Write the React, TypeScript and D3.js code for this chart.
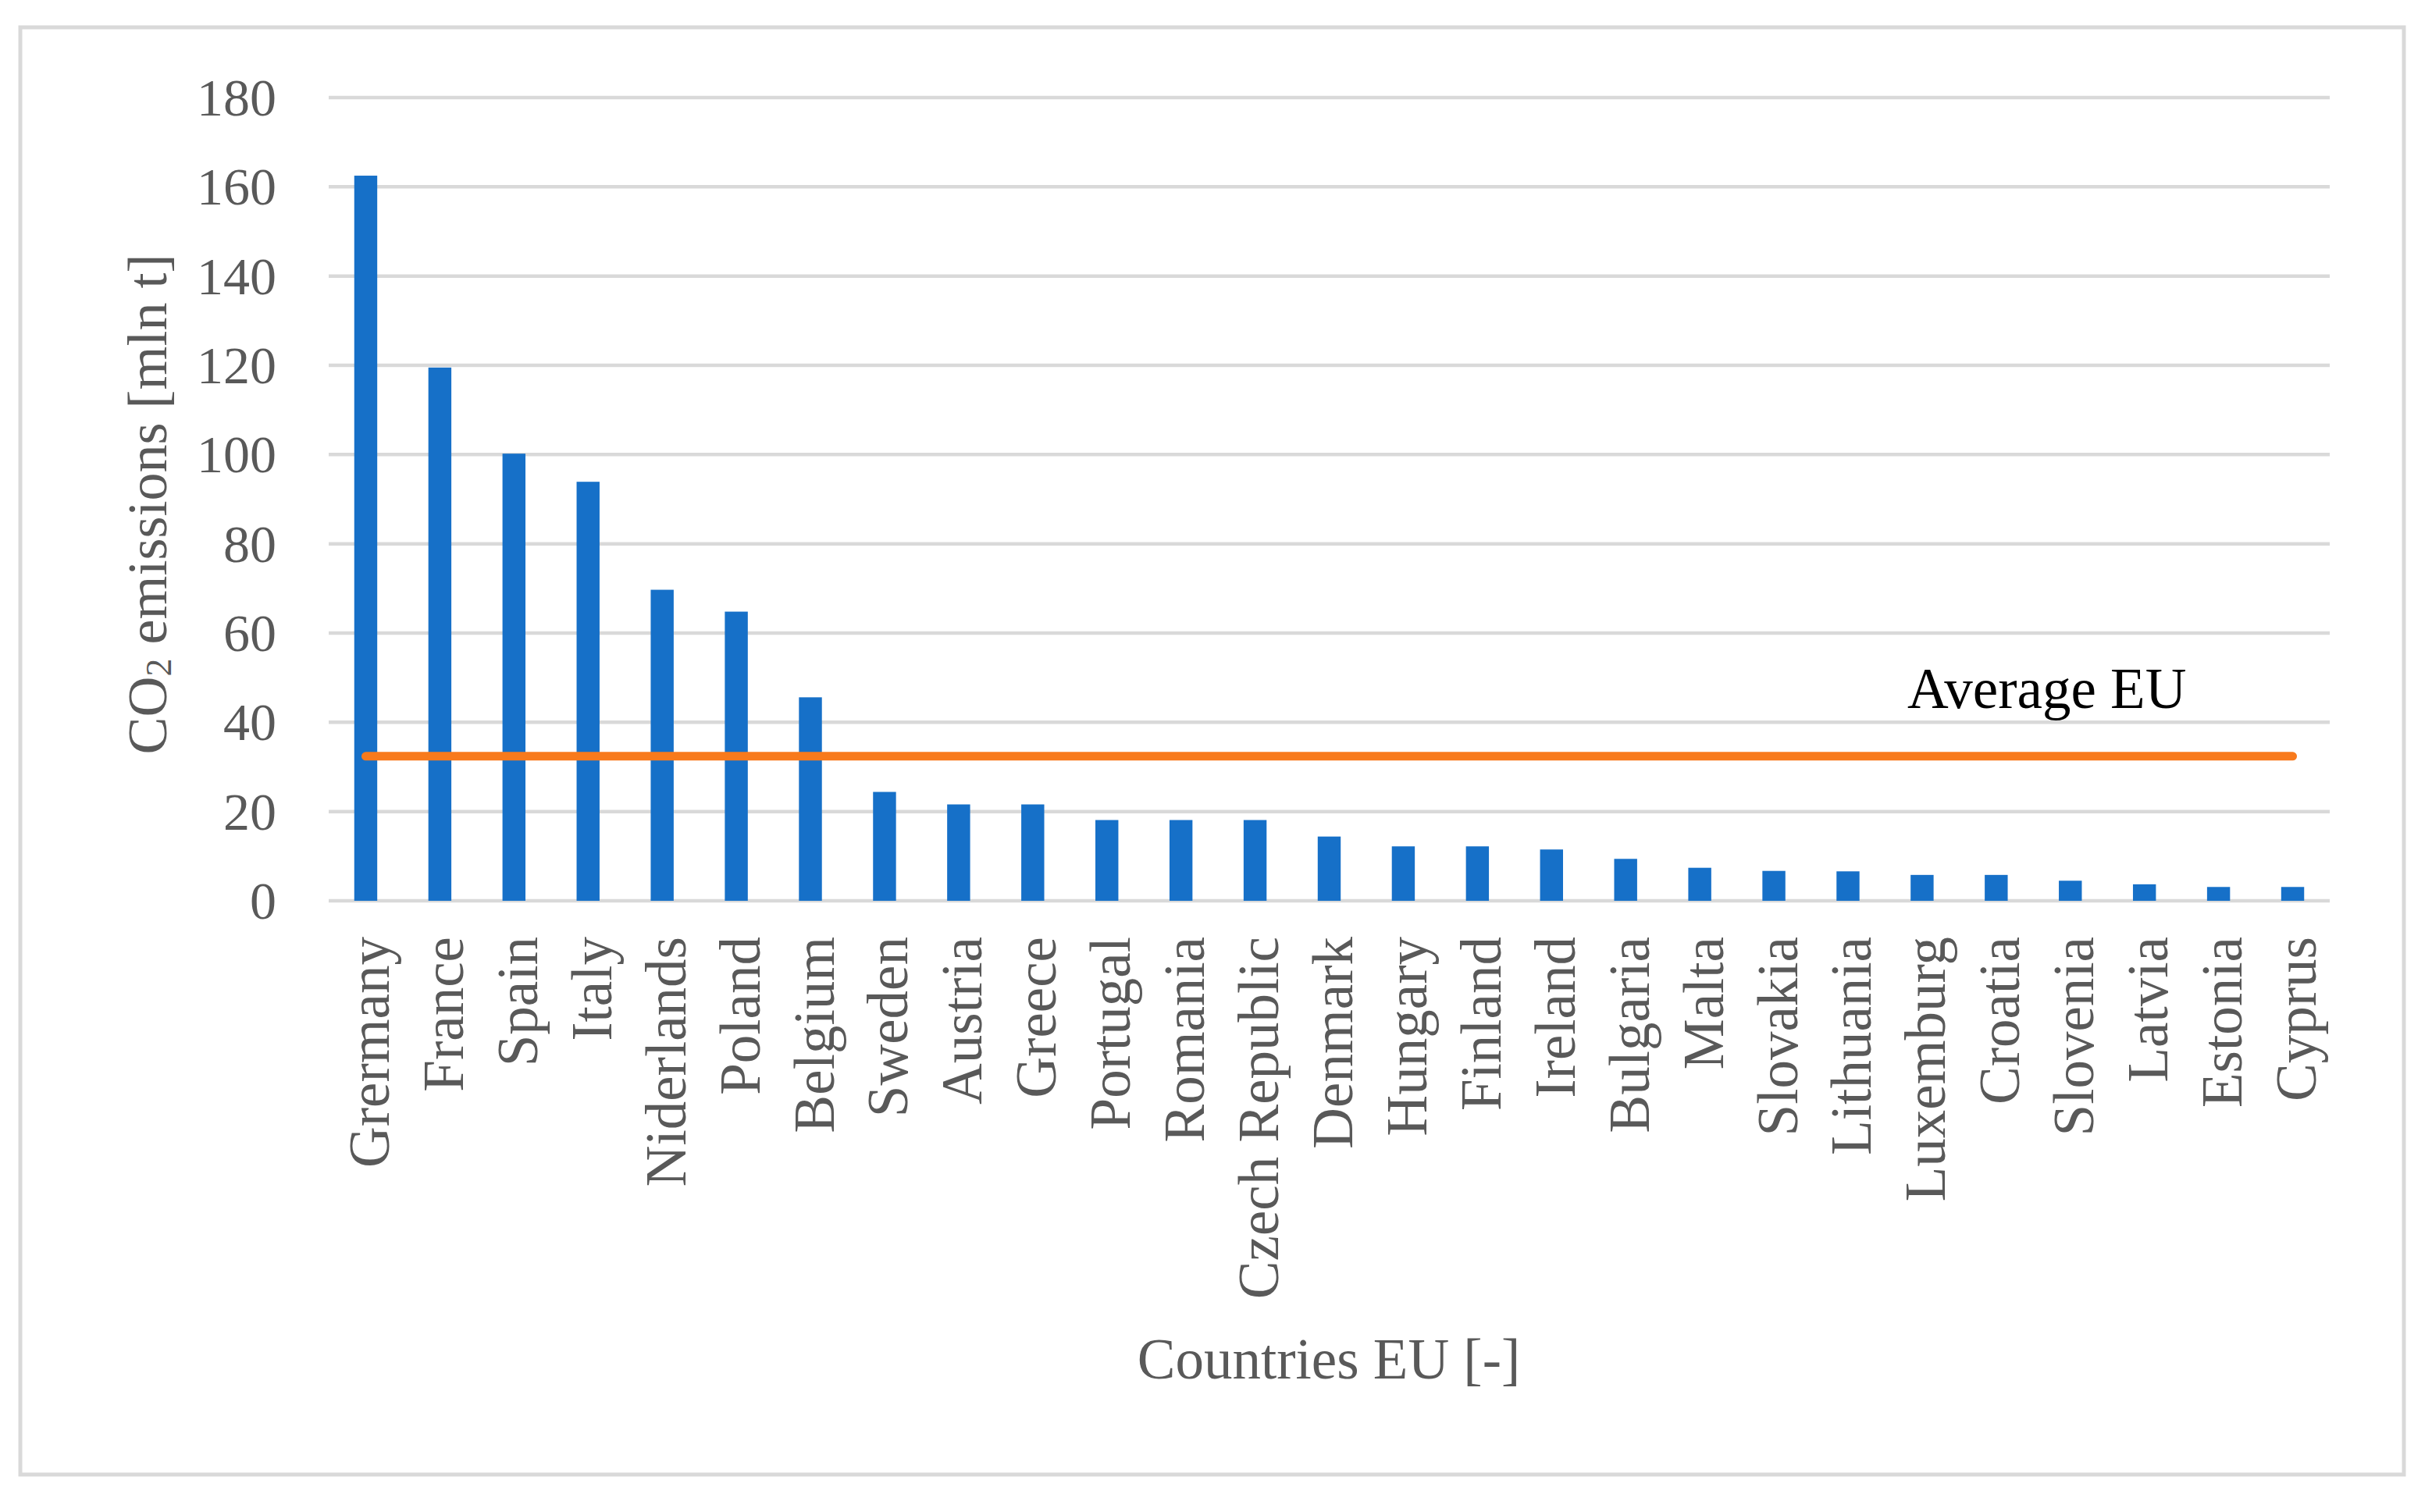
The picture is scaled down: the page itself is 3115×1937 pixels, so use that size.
import React from "react";
import * as d3 from "d3";

const countries = [
  "Grermany", "France", "Spain", "Italy", "Niderlands", "Poland", "Belgium",
  "Sweden", "Austria", "Greece", "Portugal", "Romania", "Czech Republic",
  "Denmark", "Hungary", "Finland", "Ireland", "Bulgaria", "Malta", "Slovakia",
  "Lithuania", "Luxemburg", "Croatia", "Slovenia", "Latvia", "Estonia", "Cyprus",
];
const emissions = [
  162.5, 119.5, 100.2, 93.9, 69.7, 64.8, 45.6,
  24.4, 21.6, 21.6, 18.1, 18.1, 18.1,
  14.4, 12.2, 12.2, 11.5, 9.4, 7.4, 6.7,
  6.6, 5.8, 5.8, 4.5, 3.7, 3.1, 3.1,
];
const averageEU = [32.4];
const yTicks = [0, 20, 40, 60, 80, 100, 120, 140, 160, 180];
const averageLabel = "Average EU";
const xTitle = "Countries EU [-]";

const W = 3115;
const H = 1937;
const FONT = "'Palatino Linotype', 'Book Antiqua', Palatino, 'Liberation Serif', serif";

export default function App() {
  const x = d3.scaleBand<string>().domain(countries).range([421, 2984]).paddingInner(0).paddingOuter(0);
  const y = d3.scaleLinear().domain([0, 180]).range([1154, 125]);
  const bw = x.bandwidth() * 0.31;
  const cx = (c: string) => (x(c) as number) + x.bandwidth() / 2;
  const avgLine = d3.line<string>().x((c) => cx(c)).y(() => y(averageEU[0]));
  const avgPts = [countries[0], countries[countries.length - 1]];

  return (
    <svg width={W} height={H} style={{ position: "absolute", left: 0, top: 0, background: "#fff" }}>
      <rect x={0} y={0} width={W} height={H} fill="#fff" />
      <rect x={26} y={35} width={3053} height={1854} fill="#fff" stroke="#d9d9d9" strokeWidth={5} />
      {yTicks.map((t) => (
        <g key={t}>
          <line x1={421} x2={2984} y1={y(t)} y2={y(t)} stroke="#d9d9d9" strokeWidth={4.5} />
          <text x={354} y={y(t)} textAnchor="end" dominantBaseline="central" fontFamily={FONT} fontSize={68} fill="#595959">
            {t}
          </text>
        </g>
      ))}
      {countries.map((c, i) => (
        <rect key={c} x={cx(c) - bw / 2} y={y(emissions[i])} width={bw} height={y(0) - y(emissions[i])} fill="#1670c8" />
      ))}
      <path d={avgLine(avgPts) || ""} stroke="#f87a1c" strokeWidth={11} strokeLinecap="round" fill="none" />
      {countries.map((c) => (
        <text
          key={c + "l"}
          transform={`translate(${cx(c) + 5},1200) rotate(-90)`}
          textAnchor="end"
          dominantBaseline="central"
          fontFamily={FONT}
          fontSize={73}
          fill="#595959"
        >
          {c}
        </text>
      ))}
      <text x={2443} y={907} fontFamily={FONT} fontSize={73} fill="#000">
        {averageLabel}
      </text>
      <text x={1702} y={1766} textAnchor="middle" fontFamily={FONT} fontSize={73} fill="#595959">
        {xTitle}
      </text>
      <text
        transform="translate(189,646) rotate(-90)"
        textAnchor="middle"
        dominantBaseline="central"
        fontFamily={FONT}
        fontSize={72}
        fill="#595959"
      >
        CO
        <tspan fontSize={46} dy={14}>2</tspan>
        <tspan dy={-14}> emissions [mln t]</tspan>
      </text>
    </svg>
  );
}
